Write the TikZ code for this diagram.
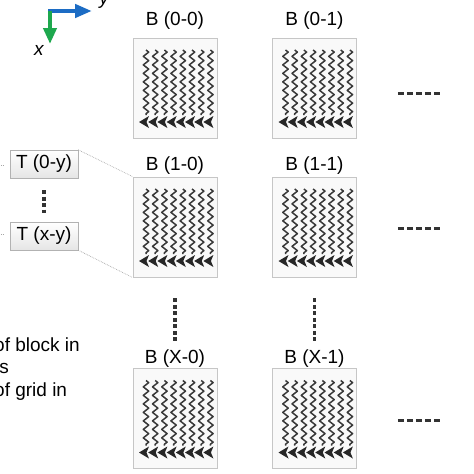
\documentclass[tikz,border=0pt]{standalone}
\usepackage{fontspec}
\setmainfont{Liberation Sans}
\usetikzlibrary{decorations.pathmorphing,arrows.meta,shadows}
\definecolor{axblue}{RGB}{28,108,196}
\definecolor{axgreen}{RGB}{30,168,78}
\newcommand\zzbox[2]{%
  \foreach \i in {0,...,7}{%
    \pgfmathsetmacro\xx{#1+13+\i*9.2}%
    \draw[wave] (\xx,#2+12) -- (\xx,#2+77);
    \fill[gray!30!black] (\xx-7,#2+84) -- (\xx+3,#2+78) -- (\xx+0.5,#2+84) -- (\xx+3,#2+90) -- cycle;
  }}
\begin{document}
\begin{tikzpicture}[x=1pt,y=-1pt,
  lbl/.style={font=\fontsize{19}{22}\selectfont, inner sep=0pt},
  bbox/.style={draw=gray!45, fill=gray!5, minimum width=84pt, minimum height=100pt, inner sep=0pt, line width=0.9pt},
  tbox/.style={draw=gray!60, top color=white, bottom color=gray!20, minimum width=68pt, minimum height=28pt, inner sep=0pt, font=\fontsize{19}{22}\selectfont, drop shadow={shadow xshift=1.2pt, shadow yshift=-1.2pt, opacity=0.35}},
  conn/.style={densely dotted, gray!70, line width=0.7pt},
  vdots/.style={dash pattern=on 4pt off 2.5pt, line width=3.2pt, gray!40!black},
  hdots/.style={dash pattern=on 6pt off 3pt, line width=3pt, gray!40!black},
  wave/.style={decorate, decoration={zigzag, segment length=8.5pt, amplitude=2.7pt}, line width=1.5pt, line join=round, gray!45!black},
]
\clip (0,0) rectangle (474,474);
% axes
\coordinate (o) at (50,11);
\coordinate (ay) at (92,11);
\coordinate (ax) at (50,44);
\draw[-{Triangle[length=17pt,width=13pt]}, line width=4.5pt, axblue] ([xshift=-2pt]o) -- (ay);
\draw[-{Triangle[length=16pt,width=13pt]}, line width=4.5pt, axgreen] (o) -- (ax);
\node[lbl, font=\fontsize{19}{22}\selectfont\itshape] (ly) at (104,1) {y};
\node[lbl, font=\fontsize{19}{22}\selectfont\itshape] (lx) at (39,50) {x};
% blocks
\node[bbox] (b00) at (175,88) {};
\node[bbox] (b01) at (314.5,88) {};
\node[bbox] (b10) at (175,227) {};
\node[bbox] (b11) at (314.5,227) {};
\node[bbox] (bx0) at (175,418.5) {};
\node[bbox] (bx1) at (314.5,418.5) {};
\zzbox{133}{38}
\zzbox{272.5}{38}
\zzbox{133}{177}
\zzbox{272.5}{177}
\zzbox{133}{368.5}
\zzbox{272.5}{368.5}
% labels
\node[lbl] (l00) at (175,21) {B (0-0)};
\node[lbl] (l01) at (314.5,21) {B (0-1)};
\node[lbl] (l10) at (175,166) {B (1-0)};
\node[lbl] (l11) at (314.5,166) {B (1-1)};
\node[lbl] (lx0) at (175,359) {B (X-0)};
\node[lbl] (lx1) at (314.5,359) {B (X-1)};
% vertical dots between rows
\draw[vdots] ([yshift=-21pt]b10.south) -- ([yshift=9pt]lx0.north);
\draw[vdots] ([yshift=-21pt]b11.south) -- ([yshift=9pt]lx1.north);
% horizontal dashes
\draw[hdots] ([xshift=41pt,yshift=-5pt]b01.east) -- ++(42,0);
\draw[hdots] ([xshift=41pt,yshift=-1pt]b11.east) -- ++(42,0);
\draw[hdots] ([xshift=41pt,yshift=-2pt]bx1.east) -- ++(42,0);
% T boxes
\node[tbox] (t0) at (44,164) {T (0-y)};
\node[tbox] (tx) at (44,236) {T (x-y)};
\draw[vdots] ([yshift=-12pt]t0.south) -- ([yshift=9pt]tx.north);
\draw[conn] (t0.north east) -- (b10.north west);
\draw[conn] (tx.south east) -- (b10.south west);
\coordinate (m0) at (-6,165);
\coordinate (m1) at (-6,234);
\draw[conn] (m0) -- ++(9,0);
\draw[conn] (m1) -- ++(9,0);
% left text
\node[lbl, anchor=base west] (txt1) at (-6,351) {of block in};
\node[lbl, anchor=base east] (txt2) at (9,373.5) {s};
\node[lbl, anchor=base west] (txt3) at (-6,396) {of grid in};
\end{tikzpicture}
\end{document}
